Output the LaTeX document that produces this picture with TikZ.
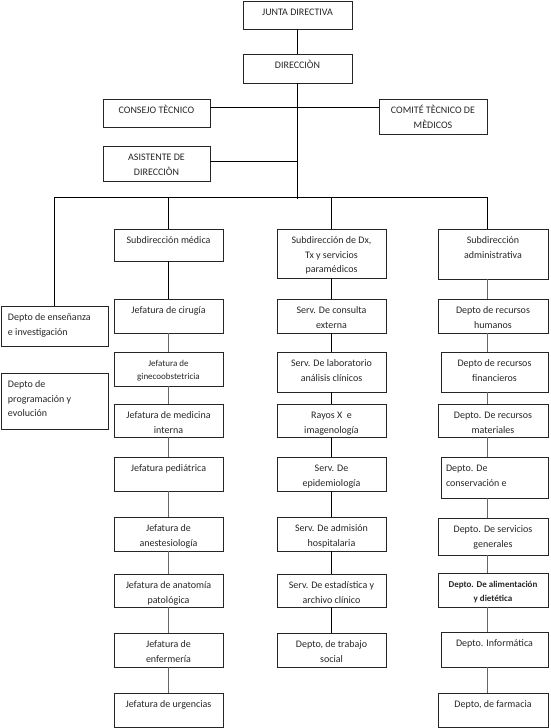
\documentclass[tikz,border=0pt]{standalone}
\usepackage{fontspec}
\setmainfont{Carlito}
\tikzset{
  orgbox/.style={draw=black!85, line width=0.7pt, inner sep=0pt, outer sep=0pt,
    text=black!85, font=\fontsize{10}{14.5}\selectfont},
  link/.style={draw=black, line width=0.7pt},
  graylink/.style={draw=black!60, line width=1pt}
}
% \bx[alignment]{name}{x1}{y1}{x2}{y2}{text}  (coordinates in px, y downwards)
\newcommand{\bx}[7][\centering]{%
  \node[orgbox, anchor=north west] (#2) at (#3,#4)
    {\parbox[c][\dimexpr#6pt-#4pt\relax][t]{\dimexpr#5pt-#3pt\relax}{#1\rule{0pt}{14.5pt}#7}};}
\begin{document}
\begin{tikzpicture}[x=1pt,y=-1pt]
\useasboundingbox (0,0) rectangle (550,728);
% top
\bx{junta}{243}{1}{352}{29}{JUNTA DIRECTIVA}
\bx{dir}{243}{54}{352}{83}{DIRECCIÒN}
\bx{consejo}{103}{99}{210}{127}{CONSEJO TÈCNICO}
\bx{comite}{379}{99}{487}{134}{COMITÉ TÈCNICO DE\\ MÈDICOS}
\bx{asist}{103}{146}{210}{181}{ASISTENTE DE\\ DIRECCIÒN}
% left
\bx[\raggedright\leftskip=7pt\relax]{ens}{1}{306}{108}{346}{Depto de enseñanza\\ e investigación}
\bx[\raggedright\leftskip=7pt\relax]{prog}{1}{373}{108}{429}{Depto de\\ programación y\\ evolución}
% subdirección médica column
\bx{submed}{114}{229}{223}{261}{Subdirección médica}
\bx{cir}{114}{299}{223}{333}{Jefatura de cirugía}
\bx{gin}{114}{352}{223}{386}{\fontsize{9}{13}\selectfont Jefatura de\\ ginecoobstetricia}
\bx{medi}{114}{404}{223}{437}{Jefatura de medicina\\ interna}
\bx{ped}{114}{457}{223}{491}{Jefatura pediátrica}
\bx{anes}{114}{517}{223}{551}{Jefatura de\\ anestesiología}
\bx{anat}{114}{574}{223}{607}{Jefatura de anatomía\\ patológica}
\bx{enf}{114}{633}{223}{667}{Jefatura de\\ enfermería}
\bx{urg}{114}{693}{223}{727}{Jefatura de urgencias}
% subdirección Dx column
\bx{subdx}{277}{229}{386}{278}{Subdirección de Dx,\\ Tx y servicios\\ paramédicos}
\bx{cext}{277}{299}{386}{333}{Serv. De consulta\\ externa}
\bx{lab}{277}{352}{386}{392}{Serv. De laboratorio\\ análisis clínicos}
\bx{rx}{277}{404}{386}{437}{Rayos X\ \ e\\ imagenología}
\bx{epi}{277}{457}{386}{491}{Serv. De\\ epidemiología}
\bx{adm}{277}{517}{386}{551}{Serv. De admisión\\ hospitalaria}
\bx{est}{277}{574}{386}{607}{Serv. De estadística y\\ archivo clínico}
\bx{ts}{277}{633}{386}{667}{Depto, de trabajo\\ social}
% subdirección administrativa column
\bx{subadm}{438}{229}{548}{279}{Subdirección\\ administrativa}
\bx{hum}{438}{299}{548}{333}{Depto de recursos\\ humanos}
\bx{fin}{441}{352}{548}{392}{Depto de recursos\\ financieros}
\bx{mat}{438}{404}{548}{437}{Depto. De recursos\\ materiales}
\bx[\raggedright\leftskip=5pt\relax]{cons}{441}{457}{548}{498}{Depto. De\\ conservación e}
\bx{serv}{438}{518}{548}{555}{Depto. De servicios\\ generales}
\bx{alim}{438}{573}{548}{607}{\fontsize{9}{13.5}\selectfont\bfseries Depto. De alimentación\\ y dietética}
\bx{inf}{441}{632}{548}{667}{Depto. Informática}
\bx{farm}{438}{693}{548}{727}{Depto, de farmacia}
% helper coordinates
\coordinate (bus) at (0,197);
\coordinate (hub) at (295,199);
\coordinate (cl) at (0,107);
\coordinate (al) at (0,161);
\coordinate (colR) at (487,0);
% upper connectors
\draw[link] (junta) -- (dir);
\draw[link] (dir.south) -- (dir.south |- hub);
\draw[link] (consejo.east |- cl) -- (comite.west |- cl);
\draw[link] (asist.east |- al) -- (dir.south |- al);
\draw[link] (ens.north |- bus) -- (colR |- bus);
\draw[link] (ens.north) -- (ens.north |- bus);
\draw[link] (submed.north) -- (submed.north |- bus);
\draw[link] (subdx.north) -- (subdx.north |- bus);
\draw[link] (subadm.north -| colR) -- (colR |- bus);
% column chains
\draw[link] (submed) -- (cir);
\foreach \a/\b in {cir/gin, gin/medi, medi/ped, ped/anes, anes/anat, anat/enf, enf/urg}
  \draw[graylink] (\a) -- (\b);
\foreach \a/\b in {subdx/cext, cext/lab, lab/rx, rx/epi, epi/adm, adm/est, est/ts}
  \draw[link] (\a) -- (\b);
\foreach \a/\b in {subadm/hum, hum/fin, fin/mat, mat/cons, cons/serv, serv/alim, alim/inf, inf/farm}
  \draw[graylink] (\a.south -| colR) -- (\b.north -| colR);
\end{tikzpicture}
\end{document}
